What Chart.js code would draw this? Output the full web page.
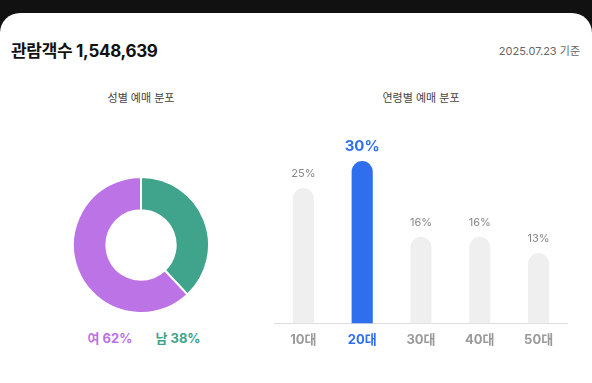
<!DOCTYPE html>
<html>
<head>
<meta charset="utf-8">
<script src="https://cdn.jsdelivr.net/npm/chart.js@4"></script>
<style>
  html, body { margin: 0; padding: 0; }
  body { width: 592px; height: 383px; background: #111; overflow: hidden;
         font-family: "Inter", "Noto Sans CJK KR", sans-serif; }
  .card { position: absolute; left: 0; top: 13px; width: 592px; height: 400px;
          background: #fff; border-radius: 20px 20px 0 0; }
  .title { position: absolute; left: 11px; top: 37px; font-size: 17px; font-weight: 700;
           color: #111; letter-spacing: -0.3px; }
  .date { position: absolute; right: 12px; top: 42px; font-size: 11px; color: #666; }
  .sub { position: absolute; top: 89px; font-size: 11px; color: #444; transform: translateX(-50%); white-space: nowrap; }
  #genderChart { position: absolute; left: 72px; top: 176px; }
  #ageChart { position: absolute; left: 274px; top: 122px; }
  .glabel { position: absolute; top: 328px; font-size: 13px; font-weight: 700; transform: translateX(-50%); white-space: nowrap; }
</style>
</head>
<body>
<div class="card"></div>
<div class="title">관람객수 1,548,639</div>
<div class="date">2025.07.23 기준</div>
<div class="sub" style="left:141px">성별 예매 분포</div>
<div class="sub" style="left:421px">연령별 예매 분포</div>
<canvas id="genderChart" width="138" height="138"></canvas>
<div id="genderLabels"></div>
<canvas id="ageChart" width="294" height="240"></canvas>
<script>
(function() {
    'use strict';

    var FONT = '"Inter", "Noto Sans CJK KR", sans-serif';

    // 성별
    var genderNames = ['남', '여'];
    var genderValues = [38, 62];
    var genderColors = ['#40a38c', '#bc73e6'];
    var genderLabelX = [178, 110];

    // 연령별
    var ageLabels = ['10대', '20대', '30대', '40대', '50대'];
    var ageValues = [25, 30, 16, 16, 13];
    var highlightIndex = 1;

    var BLUE = '#2f6fed';

    new Chart(document.getElementById('genderChart'), {
        type: 'doughnut',
        data: {
            labels: genderNames,
            datasets: [{
                data: genderValues,
                backgroundColor: genderColors,
                borderColor: '#fff',
                borderWidth: 2
            }]
        },
        options: {
            responsive: false,
            animation: false,
            cutout: '51%',
            plugins: { legend: { display: false }, tooltip: { enabled: false } }
        }
    });

    var holder = document.getElementById('genderLabels');
    for (var i = 0; i < genderNames.length; i++) {
        var d = document.createElement('div');
        d.className = 'glabel';
        d.style.left = genderLabelX[i] + 'px';
        d.style.color = genderColors[i];
        d.textContent = genderNames[i] + ' ' + genderValues[i] + '%';
        holder.appendChild(d);
    }

    var valueLabels = {
        id: 'valueLabels',
        afterDatasetsDraw: function(chart) {
            var ctx = chart.ctx;
            var meta = chart.getDatasetMeta(0);
            ctx.save();
            ctx.textAlign = 'center';
            ctx.textBaseline = 'middle';
            meta.data.forEach(function(bar, idx) {
                if (idx === highlightIndex) {
                    ctx.font = '700 15px ' + FONT;
                    ctx.fillStyle = BLUE;
                    ctx.fillText(ageValues[idx] + '%', bar.x, bar.y - 15);
                } else {
                    ctx.font = '400 11px ' + FONT;
                    ctx.fillStyle = '#888';
                    ctx.fillText(ageValues[idx] + '%', bar.x, bar.y - 14);
                }
            });
            ctx.restore();
        }
    };

    new Chart(document.getElementById('ageChart'), {
        type: 'bar',
        data: {
            labels: ageLabels,
            datasets: [{
                data: ageValues,
                backgroundColor: ageValues.map(function(v, idx) {
                    return idx === highlightIndex ? BLUE : '#efefef';
                }),
                borderRadius: { topLeft: 11, topRight: 11 },
                borderSkipped: 'bottom',
                categoryPercentage: 1,
                barPercentage: 0.36
            }]
        },
        options: {
            responsive: false,
            animation: false,
            layout: { padding: { top: 12, bottom: 13, left: 0, right: 0 } },
            plugins: { legend: { display: false }, tooltip: { enabled: false } },
            scales: {
                x: {
                    grid: { display: false },
                    border: { display: true, color: '#dddddd', width: 1 },
                    ticks: {
                        padding: 1,
                        font: { family: FONT, size: 13, weight: '700' },
                        color: function(c) { return c.index === highlightIndex ? BLUE : '#9a9a9a'; }
                    }
                },
                y: {
                    display: false,
                    min: 0,
                    max: 35
                }
            }
        },
        plugins: [valueLabels]
    });
})();
</script>
</body>
</html>
